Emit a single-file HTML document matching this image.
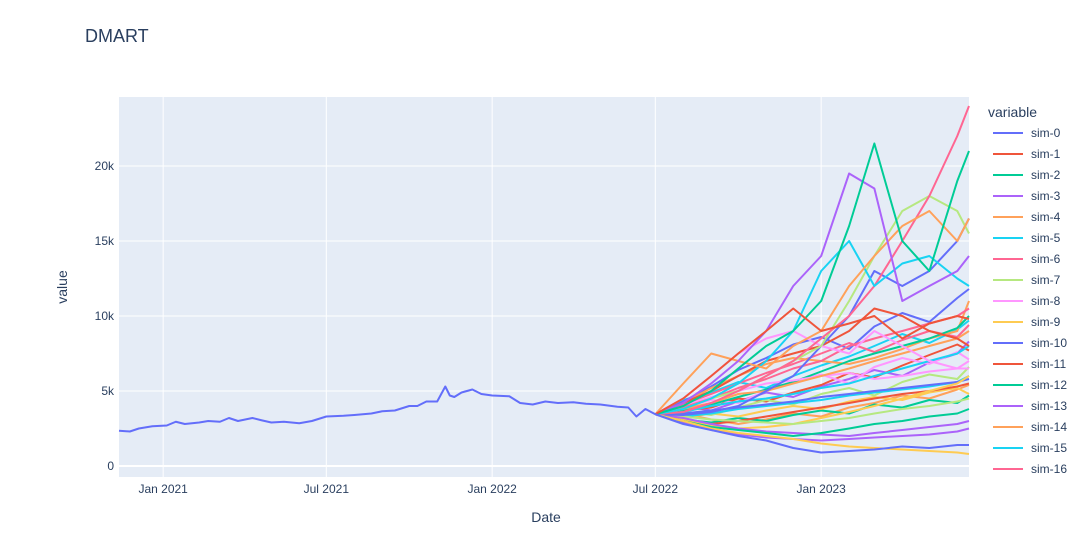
<!DOCTYPE html>
<html><head><meta charset="utf-8"><style>
body{margin:0;background:#fff;font-family:"Liberation Sans",sans-serif;}
svg text{font-family:"Liberation Sans",sans-serif;}
</style></head><body>
<svg id="chart" width="1092" height="533">
<text x="85" y="42" font-size="18" fill="#2a3f5f">DMART</text>
<rect x="119" y="97" width="850" height="380" fill="#e5ecf6"/>
<g id="grid"></g><g id="series"></g><g id="axes"></g>
<text x="546" y="522" font-size="14" fill="#2a3f5f" text-anchor="middle">Date</text>
<text x="67" y="287" font-size="14" fill="#2a3f5f" text-anchor="middle" transform="rotate(-90 67 287)">value</text>
<g id="legend"><text x="988" y="117" font-size="14" fill="#2a3f5f">variable</text></g>
</svg>
<script>
const histDates=["2020-11-13","2020-11-25","2020-12-05","2020-12-20","2021-01-05","2021-01-15","2021-01-25","2021-02-10","2021-02-20","2021-03-05","2021-03-15","2021-03-25","2021-04-10","2021-04-20","2021-05-01","2021-05-15","2021-06-01","2021-06-15","2021-07-01","2021-07-20","2021-08-01","2021-08-20","2021-09-01","2021-09-15","2021-10-01","2021-10-10","2021-10-20","2021-11-01","2021-11-10","2021-11-15","2021-11-20","2021-11-28","2021-12-10","2021-12-20","2022-01-01","2022-01-20","2022-02-01","2022-02-15","2022-03-01","2022-03-15","2022-04-01","2022-04-15","2022-05-01","2022-05-20","2022-06-01","2022-06-10","2022-06-20","2022-07-01"];
const histValues=[2350,2300,2500,2650,2700,2950,2800,2900,3000,2950,3200,3000,3200,3050,2900,2950,2850,3000,3300,3350,3400,3500,3650,3700,4000,4000,4300,4300,5300,4700,4600,4900,5100,4800,4700,4650,4200,4100,4300,4200,4250,4150,4100,3950,3900,3300,3800,3450];
const simDates=["2022-07-01","2022-08-01","2022-09-01","2022-10-01","2022-11-01","2022-12-01","2023-01-01","2023-02-01","2023-03-01","2023-04-01","2023-05-01","2023-06-01","2023-06-14"];
const sims=[
[3450,2800,2400,2000,1700,1200,900,1000,1100,1300,1200,1400,1400],
[3450,4500,6000,7500,9000,10500,9000,9500,10000,8500,9500,10000,9800],
[3450,4000,5000,6500,8000,9000,11000,16000,21500,15000,13000,19000,21000],
[3450,4200,5500,7000,9000,12000,14000,19500,18500,11000,12000,13000,14000],
[3450,5500,7500,7000,6500,8000,9000,12000,14000,16000,17000,15000,16500],
[3450,3800,4500,5500,7000,9000,13000,15000,12000,13500,14000,12500,12000],
[3450,3600,4200,5000,6000,7000,8500,10000,12000,15000,18000,22000,24000],
[3450,3800,4500,5000,6000,7000,8000,11000,14000,17000,18000,17000,15500],
[3450,4500,6000,7500,8500,9000,8000,7500,9000,8000,7000,6500,6500],
[3450,3000,2500,2200,2000,1800,1500,1300,1200,1100,1000,900,800],
[3450,3400,3600,4000,5000,6000,8000,10000,13000,12000,13000,15000,16500],
[3450,4200,5000,6000,7000,7500,8000,9000,10500,10000,9000,8500,8000],
[3450,3000,2600,2400,2200,2000,2200,2500,2800,3000,3300,3500,3800],
[3450,3200,2800,2500,2300,2200,2100,2000,2200,2400,2600,2800,3000],
[3450,3800,4200,4800,5000,5500,6000,6500,7000,7500,8000,8500,9000],
[3450,3600,4000,4300,4500,4800,5200,5500,6000,6500,7000,7500,8000],
[3450,3900,4500,5200,5800,6500,7000,8000,8500,9000,9500,10000,10500],
[3450,3300,3100,3000,2900,2800,3000,3200,3500,3800,4000,4300,4500],
[3450,4000,4600,5000,5500,5700,6000,6200,5800,6000,6300,6500,7000],
[3450,3100,2700,2500,2600,2800,3200,3600,4000,4500,5000,5500,6000],
[3450,3500,3700,3900,4100,4300,4600,4800,5000,5200,5400,5600,5800],
[3450,3000,2800,3000,3300,3600,3900,4200,4500,4800,5000,5300,5500],
[3450,3700,4100,4600,5100,5600,6300,7000,7500,8000,8500,9200,10000],
[3450,2900,2400,2100,1900,1800,1700,1800,1900,2000,2100,2300,2500],
[3450,4200,5200,6000,6800,7200,7000,6800,7200,7800,8500,9000,11000],
[3450,3300,3500,3800,4000,4200,4400,4700,4900,5100,5300,5600,6000],
[3450,4100,4800,5500,6200,6800,7500,8200,7600,8400,9000,8600,9400],
[3450,3600,3400,3900,4400,4100,4800,5200,4700,5600,6100,5800,6600],
[3450,3900,4400,4200,5000,5600,6100,5500,6600,7200,6800,7600,7100],
[3450,3200,3500,3300,3700,4000,3800,4300,4600,4400,4900,5200,4800],
[3450,4300,5300,6400,7200,8100,8600,7800,9300,10200,9600,11200,11800],
[3450,3700,3900,4500,4300,4900,5400,6200,5900,6700,7400,8100,7700],
[3450,3100,2900,3200,3000,3400,3700,3500,4100,3900,4400,4200,4700],
[3450,4000,3700,4300,4900,4600,5300,5800,6400,6000,6900,7500,8300],
[3450,3500,3100,2800,3100,3500,3300,3900,4200,4700,4500,5100,5400],
[3450,4400,4900,5600,5200,6000,6700,7300,8000,8800,8200,9100,9700]];
const yTicks=[0,5000,10000,15000,20000];
const yTickLabels=["0","5k","10k","15k","20k"];
const xTicks=["2021-01-01","2021-07-01","2022-01-01","2022-07-01","2023-01-01"];
const xTickLabels=["Jan 2021","Jul 2021","Jan 2022","Jul 2022","Jan 2023"];
const legendCount=17;
const colors=["#636efa","#EF553B","#00cc96","#ab63fa","#FFA15A","#19d3f3","#FF6692","#B6E880","#FF97FF","#FECB52"];
const NS="http://www.w3.org/2000/svg";
const t0=Date.parse("2020-11-13"),t1=Date.parse("2023-06-14");
const X=d=>119+(Date.parse(d)-t0)/(t1-t0)*850;
const Y=v=>466-v*0.015;
function mk(tag,attrs,parent){const e=document.createElementNS(NS,tag);for(const k in attrs)e.setAttribute(k,attrs[k]);parent.appendChild(e);return e;}
const grid=document.getElementById('grid'),axes=document.getElementById('axes'),ser=document.getElementById('series'),leg=document.getElementById('legend');
yTicks.forEach((v,i)=>{const l=mk('line',{x1:119,x2:969,y1:Y(v),y2:Y(v),stroke:'#fff','stroke-width':v===0?2:1},grid);


const t=mk('text',{x:114,y:Y(v)+4,'font-size':12,fill:'#2a3f5f','text-anchor':'end'},axes);t.textContent=yTickLabels[i];

});
xTicks.forEach((d,i)=>{const l=mk('line',{x1:X(d),x2:X(d),y1:97,y2:477,stroke:'#fff','stroke-width':1},grid);


const t=mk('text',{x:X(d),y:493,'font-size':12,fill:'#2a3f5f','text-anchor':'middle'},axes);t.textContent=xTickLabels[i];

});
function line(dates,vals,color,name){const p=mk('polyline',{points:dates.map((d,i)=>X(d)+','+Y(vals[i])).join(' '),fill:'none',stroke:color,'stroke-width':2,'stroke-linejoin':'round'},ser);

}
for(let s=sims.length-1;s>=0;s--)line(simDates,sims[s],colors[s%10],'sim-'+s+'-line');
line(histDates,histValues,colors[0],'history-line');
for(let i=0;i<legendCount;i++){const y=133+i*21;
const g=mk('g',{},leg);


mk('line',{x1:993,x2:1023,y1:y,y2:y,stroke:colors[i%10],'stroke-width':2},g);
const t=mk('text',{x:1031,y:y+4,'font-size':12,fill:'#2a3f5f'},g);t.textContent='sim-'+i;}
</script>
</body></html>
